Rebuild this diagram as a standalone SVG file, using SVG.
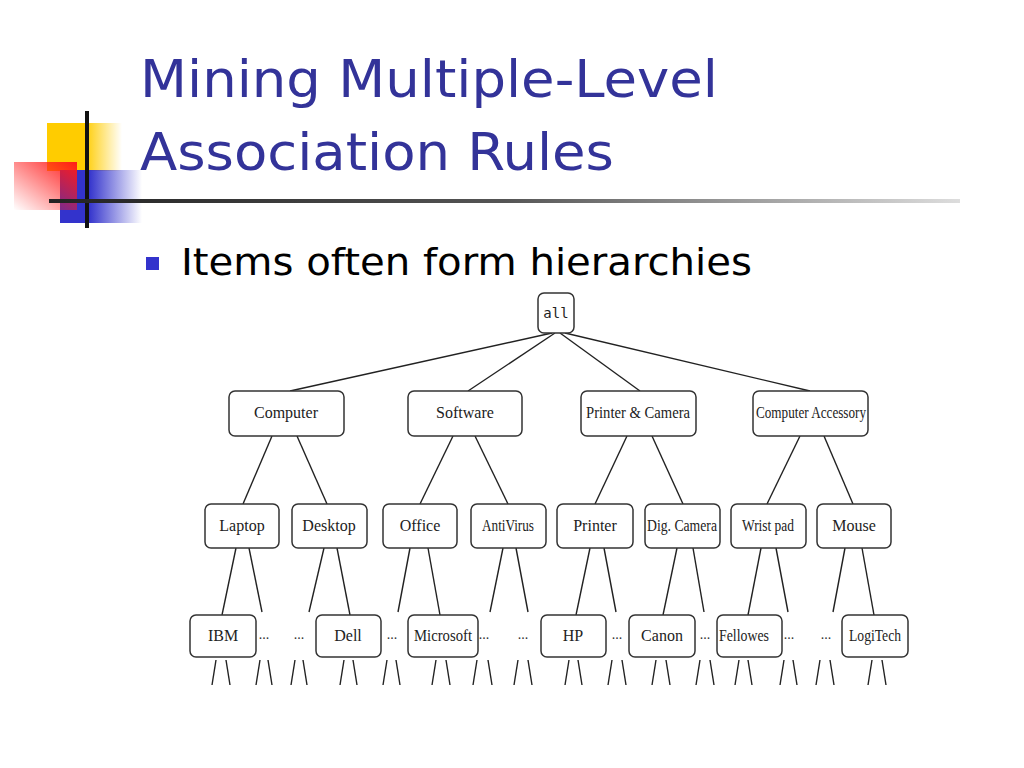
<svg xmlns="http://www.w3.org/2000/svg" width="1024" height="768" viewBox="0 0 1024 768">
<defs>
<linearGradient id="gRed" x1="1" y1="0" x2="0" y2="1"><stop offset="0" stop-color="#ff1a1a"/><stop offset="1" stop-color="#ff1a1a" stop-opacity="0"/></linearGradient>
<linearGradient id="gYel" x1="0" y1="0" x2="1" y2="0"><stop offset="0.5" stop-color="#ffcc00"/><stop offset="1" stop-color="#ffcc00" stop-opacity="0"/></linearGradient>
<linearGradient id="gBlue" x1="0" y1="0" x2="1" y2="0"><stop offset="0.35" stop-color="#3333cc"/><stop offset="1" stop-color="#3333cc" stop-opacity="0"/></linearGradient>
<linearGradient id="gLine" x1="0" y1="0" x2="1" y2="0"><stop offset="0" stop-color="#222"/><stop offset="0.5" stop-color="#555"/><stop offset="1" stop-color="#ddd"/></linearGradient>
<style>
.n rect{fill:#fff;stroke:#333;stroke-width:1.5}
.n text{font-family:"Liberation Serif",serif;font-size:16px;text-anchor:middle;fill:#222}
.c line{stroke:#222;stroke-width:1.4}
.d{font-family:"Liberation Serif",serif;font-size:14px;fill:#333;text-anchor:middle}
</style>
</defs>
<rect width="1024" height="768" fill="#fff"/>
<g id="deco">
<rect x="47" y="123" width="75" height="48" fill="url(#gYel)"/>
<rect x="60" y="170" width="82" height="53" fill="url(#gBlue)"/>
<rect x="14" y="162" width="63" height="48" fill="url(#gRed)"/>
<line x1="87" y1="111" x2="87" y2="228" stroke="#111" stroke-width="4"/>
<rect x="49" y="199" width="911" height="4" fill="url(#gLine)"/>
</g>
<g id="title" font-family="Tahoma,'DejaVu Sans Condensed','DejaVu Sans',sans-serif" fill="#333399" font-size="52">
<text x="140" y="97" textLength="578" lengthAdjust="spacingAndGlyphs">Mining Multiple-Level</text>
<text x="140" y="170" textLength="474" lengthAdjust="spacingAndGlyphs">Association Rules</text>
</g>
<g id="bullet">
<rect x="146" y="257" width="13" height="13" fill="#3333cc"/>
<text x="181" y="275" font-family="Tahoma,'DejaVu Sans Condensed','DejaVu Sans',sans-serif" font-size="38" fill="#000" textLength="571" lengthAdjust="spacingAndGlyphs">Items often form hierarchies</text>
</g>
<g id="connectors" class="c">
<line x1="552" y1="333" x2="290" y2="391"/><line x1="555" y1="333" x2="468" y2="391"/><line x1="560" y1="333" x2="640" y2="391"/><line x1="565" y1="333" x2="810" y2="391"/>
<line x1="272" y1="436" x2="243" y2="504"/><line x1="297" y1="436" x2="327" y2="504"/>
<line x1="453" y1="436" x2="420" y2="504"/><line x1="475" y1="436" x2="508" y2="504"/>
<line x1="627" y1="436" x2="595" y2="504"/><line x1="652" y1="436" x2="683" y2="504"/>
<line x1="800" y1="436" x2="767" y2="504"/><line x1="824" y1="436" x2="853" y2="504"/>
<line x1="236" y1="548" x2="222" y2="615"/><line x1="249" y1="548" x2="262" y2="612"/>
<line x1="324" y1="548" x2="309" y2="612"/><line x1="337" y1="548" x2="350" y2="615"/>
<line x1="410" y1="548" x2="398" y2="612"/><line x1="428" y1="548" x2="440" y2="615"/>
<line x1="503" y1="548" x2="490" y2="612"/><line x1="516" y1="548" x2="528" y2="612"/>
<line x1="590" y1="548" x2="576" y2="615"/><line x1="604" y1="548" x2="616" y2="612"/>
<line x1="677" y1="548" x2="663" y2="615"/><line x1="693" y1="548" x2="704" y2="612"/>
<line x1="761" y1="548" x2="748" y2="615"/><line x1="776" y1="548" x2="788" y2="612"/>
<line x1="845" y1="548" x2="833" y2="612"/><line x1="862" y1="548" x2="874" y2="615"/>
<line x1="216" y1="660" x2="212" y2="685"/><line x1="226" y1="660" x2="230" y2="685"/>
<line x1="260" y1="660" x2="256" y2="685"/><line x1="268" y1="660" x2="272" y2="685"/>
<line x1="295" y1="660" x2="291" y2="685"/><line x1="303" y1="660" x2="307" y2="685"/>
<line x1="344" y1="660" x2="340" y2="685"/><line x1="353" y1="660" x2="357" y2="685"/>
<line x1="387" y1="660" x2="383" y2="685"/><line x1="396" y1="660" x2="400" y2="685"/>
<line x1="436" y1="660" x2="432" y2="685"/><line x1="446" y1="660" x2="450" y2="685"/>
<line x1="477" y1="660" x2="473" y2="685"/><line x1="488" y1="660" x2="492" y2="685"/>
<line x1="518" y1="660" x2="514" y2="685"/><line x1="528" y1="660" x2="532" y2="685"/>
<line x1="569" y1="660" x2="565" y2="685"/><line x1="578" y1="660" x2="582" y2="685"/>
<line x1="612" y1="660" x2="608" y2="685"/><line x1="622" y1="660" x2="626" y2="685"/>
<line x1="656" y1="660" x2="652" y2="685"/><line x1="666" y1="660" x2="670" y2="685"/>
<line x1="700" y1="660" x2="696" y2="685"/><line x1="710" y1="660" x2="714" y2="685"/>
<line x1="739" y1="660" x2="735" y2="685"/><line x1="748" y1="660" x2="752" y2="685"/>
<line x1="784" y1="660" x2="780" y2="685"/><line x1="793" y1="660" x2="797" y2="685"/>
<line x1="820" y1="660" x2="816" y2="685"/><line x1="830" y1="660" x2="834" y2="685"/>
<line x1="872" y1="660" x2="868" y2="685"/><line x1="882" y1="660" x2="886" y2="685"/>
</g>
<g id="all" class="n"><rect x="538" y="293" width="36" height="40" rx="6"/><text x="556" y="318" style="font-family:'DejaVu Sans Mono',monospace;font-size:14px">all</text></g>
<g id="computer" class="n"><rect x="229" y="391" width="115" height="45" rx="6"/><text x="286" y="418">Computer</text></g>
<g id="software" class="n"><rect x="408" y="391" width="114" height="45" rx="6"/><text x="465" y="418">Software</text></g>
<g id="printer-camera" class="n"><rect x="581" y="391" width="115" height="45" rx="6"/><text x="638" y="418" textLength="104" lengthAdjust="spacingAndGlyphs">Printer &amp; Camera</text></g>
<g id="computer-accessory" class="n"><rect x="753" y="391" width="115" height="45" rx="6"/><text x="811" y="418" textLength="110" lengthAdjust="spacingAndGlyphs">Computer Accessory</text></g>
<g id="laptop" class="n"><rect x="205" y="504" width="74" height="44" rx="6"/><text x="242" y="531">Laptop</text></g>
<g id="desktop" class="n"><rect x="292" y="504" width="75" height="44" rx="6"/><text x="329" y="531">Desktop</text></g>
<g id="office" class="n"><rect x="383" y="504" width="74" height="44" rx="6"/><text x="420" y="531">Office</text></g>
<g id="antivirus" class="n"><rect x="471" y="504" width="75" height="44" rx="6"/><text x="508" y="531" textLength="52" lengthAdjust="spacingAndGlyphs">AntiVirus</text></g>
<g id="printer" class="n"><rect x="557" y="504" width="76" height="44" rx="6"/><text x="595" y="531">Printer</text></g>
<g id="dig-camera" class="n"><rect x="645" y="504" width="75" height="44" rx="6"/><text x="682" y="531" textLength="70" lengthAdjust="spacingAndGlyphs">Dig. Camera</text></g>
<g id="wrist-pad" class="n"><rect x="731" y="504" width="75" height="44" rx="6"/><text x="768" y="531" textLength="52" lengthAdjust="spacingAndGlyphs">Wrist pad</text></g>
<g id="mouse" class="n"><rect x="817" y="504" width="74" height="44" rx="6"/><text x="854" y="531">Mouse</text></g>
<g id="ibm" class="n"><rect x="190" y="615" width="66" height="42" rx="6"/><text x="223" y="641">IBM</text></g>
<g id="dell" class="n"><rect x="316" y="615" width="65" height="42" rx="6"/><text x="348" y="641">Dell</text></g>
<g id="microsoft" class="n"><rect x="408" y="615" width="70" height="42" rx="6"/><text x="443" y="641" textLength="58" lengthAdjust="spacingAndGlyphs">Microsoft</text></g>
<g id="hp" class="n"><rect x="541" y="615" width="65" height="42" rx="6"/><text x="573" y="641">HP</text></g>
<g id="canon" class="n"><rect x="629" y="615" width="66" height="42" rx="6"/><text x="662" y="641">Canon</text></g>
<g id="fellowes" class="n"><rect x="717" y="615" width="65" height="42" rx="6"/><text x="744" y="641" textLength="50" lengthAdjust="spacingAndGlyphs">Fellowes</text></g>
<g id="logitech" class="n"><rect x="842" y="615" width="66" height="42" rx="6"/><text x="875" y="641" textLength="52" lengthAdjust="spacingAndGlyphs">LogiTech</text></g>
<g id="dots">
<text class="d" x="264" y="639">...</text><text class="d" x="299" y="639">...</text><text class="d" x="392" y="639">...</text><text class="d" x="484" y="639">...</text><text class="d" x="523" y="639">...</text><text class="d" x="617" y="639">...</text><text class="d" x="705" y="639">...</text><text class="d" x="789" y="639">...</text><text class="d" x="826" y="639">...</text>
</g>
</svg>
